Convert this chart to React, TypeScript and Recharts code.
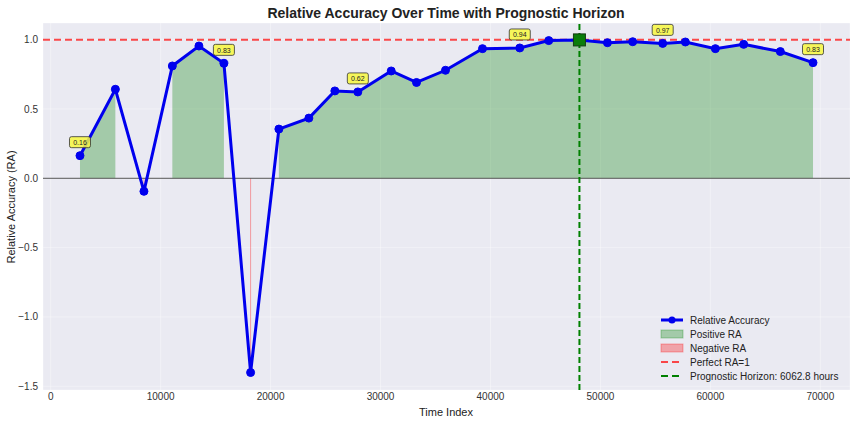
import React from 'react';
import {
  ComposedChart,
  Line,
  Area,
  Scatter,
  XAxis,
  YAxis,
  CartesianGrid,
  ReferenceLine,
  LabelList,
  Label,
  Legend
} from 'recharts';

const times = [2664, 5882, 8482, 11064, 13482, 15755, 18182, 20755, 23482, 25845, 27936, 30973, 33273, 35909, 39273, 42664, 45300, 48091, 50636, 52936, 55664, 57727, 60455, 63030, 66364, 69336];
const raValues = [0.163, 0.642, -0.094, 0.81, 0.954, 0.829, -1.401, 0.355, 0.434, 0.63, 0.623, 0.774, 0.691, 0.779, 0.935, 0.94, 0.993, 0.998, 0.978, 0.985, 0.973, 0.983, 0.935, 0.966, 0.914, 0.834];
const tagIndices = [0, 5, 10, 15, 20, 25];
const horizonIndex = 17;
const horizonHours = '6062.8';
const xTicks = [0, 10000, 20000, 30000, 40000, 50000, 60000, 70000];
const yTicks = [-1.5, -1.0, -0.5, 0.0, 0.5, 1.0];

const FONT = '"Liberation Sans", Arial, sans-serif';

// fill only between neighbouring positive points (like fill_between where=ra>0)
const data = times.map((t, i) => {
  const v = raValues[i];
  const prev = i > 0 ? raValues[i - 1] : -1;
  const next = i < raValues.length - 1 ? raValues[i + 1] : -1;
  return {
    t,
    ra: v,
    pos: v > 0 && (prev > 0 || next > 0) ? v : null
  };
});

const horizonPoint = [{ t: times[horizonIndex], ra: raValues[horizonIndex] }];

const negIdx = raValues.map((v, i) => (v < 0 ? i : -1)).filter((i) => i >= 0);

const renderTag = (props: any) => {
  const { x, y, value, index } = props;
  if (!tagIndices.includes(index)) return null;
  return (
    <g>
      <rect x={x - 10.5} y={y - 19} width={21} height={11} rx={2} fill="#f8f840" fillOpacity={0.85} stroke="#333" strokeWidth={0.8} />
      <text x={x} y={y - 13.2} textAnchor="middle" dominantBaseline="central" fontSize={7} fontFamily={FONT} fill="#222">
        {Number(value).toFixed(2)}
      </text>
    </g>
  );
};

const legendItems = [
  { name: 'Relative Accuracy', kind: 'marker' },
  { name: 'Positive RA', kind: 'green' },
  { name: 'Negative RA', kind: 'red' },
  { name: 'Perfect RA=1', kind: 'reddash' },
  { name: `Prognostic Horizon: ${horizonHours} hours`, kind: 'greendash' }
];

const LegendBox = () => (
  <div style={{ fontFamily: FONT, fontSize: 10, color: '#222' }}>
    {legendItems.map((it) => (
      <div key={it.name} style={{ display: 'flex', alignItems: 'center', height: 14 }}>
        <svg width={24} height={12} style={{ marginRight: 6 }}>
          {it.kind === 'marker' && (
            <g>
              <line x1={1} y1={6} x2={23} y2={6} stroke="#0000ee" strokeWidth={3} />
              <circle cx={12} cy={6} r={3.5} fill="#0000ee" />
            </g>
          )}
          {it.kind === 'green' && <rect x={1} y={2} width={22} height={8} fill="green" fillOpacity={0.3} stroke="green" strokeOpacity={0.3} />}
          {it.kind === 'red' && <rect x={1} y={2} width={22} height={8} fill="red" fillOpacity={0.3} stroke="red" strokeOpacity={0.3} />}
          {it.kind === 'reddash' && <line x1={1} y1={6} x2={23} y2={6} stroke="red" strokeOpacity={0.7} strokeWidth={2} strokeDasharray="7 4" />}
          {it.kind === 'greendash' && <line x1={1} y1={6} x2={23} y2={6} stroke="green" strokeWidth={2} strokeDasharray="7 4" />}
        </svg>
        <span>{it.name}</span>
      </div>
    ))}
  </div>
);

export default function App() {
  return (
    <div style={{ position: 'absolute', left: 0, top: 0, width: 856, height: 424, background: '#fff' }}>
      <div
        style={{
          position: 'absolute',
          left: 36,
          width: 820,
          top: 5,
          textAlign: 'center',
          fontFamily: FONT,
          fontWeight: 'bold',
          fontSize: 14,
          color: '#222',
          lineHeight: '16px'
        }}
      >
        Relative Accuracy Over Time with Prognostic Horizon
      </div>
      <ComposedChart width={856} height={424} data={data} margin={{ top: 23, right: 6, bottom: 0, left: 0 }}>
        <CartesianGrid fill="#eaeaf2" stroke="#ffffff" strokeOpacity={0.35} />
        <XAxis
          dataKey="t"
          type="number"
          domain={[-700, 72700]}
          ticks={xTicks}
          axisLine={false}
          tickLine={false}
          tickSize={0}
          tickMargin={3}
          height={34}
          tick={{ fontSize: 10, fill: '#333', fontFamily: FONT }}
        >
          <Label
            content={() => (
              <text x={446} y={412} textAnchor="middle" dominantBaseline="central" fontSize={11} fontFamily={FONT} fill="#222">
                Time Index
              </text>
            )}
          />
        </XAxis>
        <YAxis
          type="number"
          domain={[-1.527, 1.12]}
          ticks={yTicks}
          axisLine={false}
          tickLine={false}
          tickSize={0}
          tickMargin={5}
          width={43}
          tickFormatter={(v: number) => v.toFixed(1).replace('-', '\u2212')}
          tick={{ fontSize: 10, fill: '#333', fontFamily: FONT }}
        >
          <Label
            content={() => (
              <text
                x={11}
                y={207}
                transform="rotate(-90 11 207)"
                textAnchor="middle"
                dominantBaseline="central"
                fontSize={11}
                fontFamily={FONT}
                fill="#222"
              >
                Relative Accuracy (RA)
              </text>
            )}
          />
        </YAxis>
        <Area
          type="linear"
          dataKey="pos"
          baseValue={0}
          stroke="none"
          fill="green"
          fillOpacity={0.3}
          connectNulls={false}
          isAnimationActive={false}
          legendType="none"
        />
        {negIdx.map((i) => (
          <ReferenceLine
            key={i}
            segment={[
              { x: times[i], y: 0 },
              { x: times[i], y: raValues[i] }
            ]}
            stroke="red"
            strokeOpacity={0.35}
            strokeWidth={1}
          />
        ))}
        <ReferenceLine y={0} stroke="#555" strokeWidth={1} />
        <ReferenceLine y={1} stroke="red" strokeOpacity={0.7} strokeWidth={2} strokeDasharray="7 4" />
        <ReferenceLine x={times[horizonIndex]} stroke="green" strokeWidth={2} strokeDasharray="6 3" />
        <Line
          type="linear"
          dataKey="ra"
          stroke="#0000ee"
          strokeWidth={3}
          dot={{ r: 4, fill: '#0000ee', stroke: '#0000ee', strokeWidth: 1 }}
          activeDot={false}
          isAnimationActive={false}
        >
          <LabelList dataKey="ra" content={renderTag} />
        </Line>
        <Scatter
          data={horizonPoint}
          dataKey="ra"
          isAnimationActive={false}
          legendType="none"
          zIndex={1500}
          shape={(p: any) => (
            <rect x={p.cx - 6} y={p.cy - 6} width={12} height={12} fill="#0a7d0a" stroke="#143d14" strokeWidth={1} />
          )}
        />
        <Legend
          layout="vertical"
          align="center"
          verticalAlign="middle"
          content={() => <LegendBox />}
          wrapperStyle={{ left: 660, top: 313, width: 195, height: 72 }}
        />
      </ComposedChart>
    </div>
  );
}
